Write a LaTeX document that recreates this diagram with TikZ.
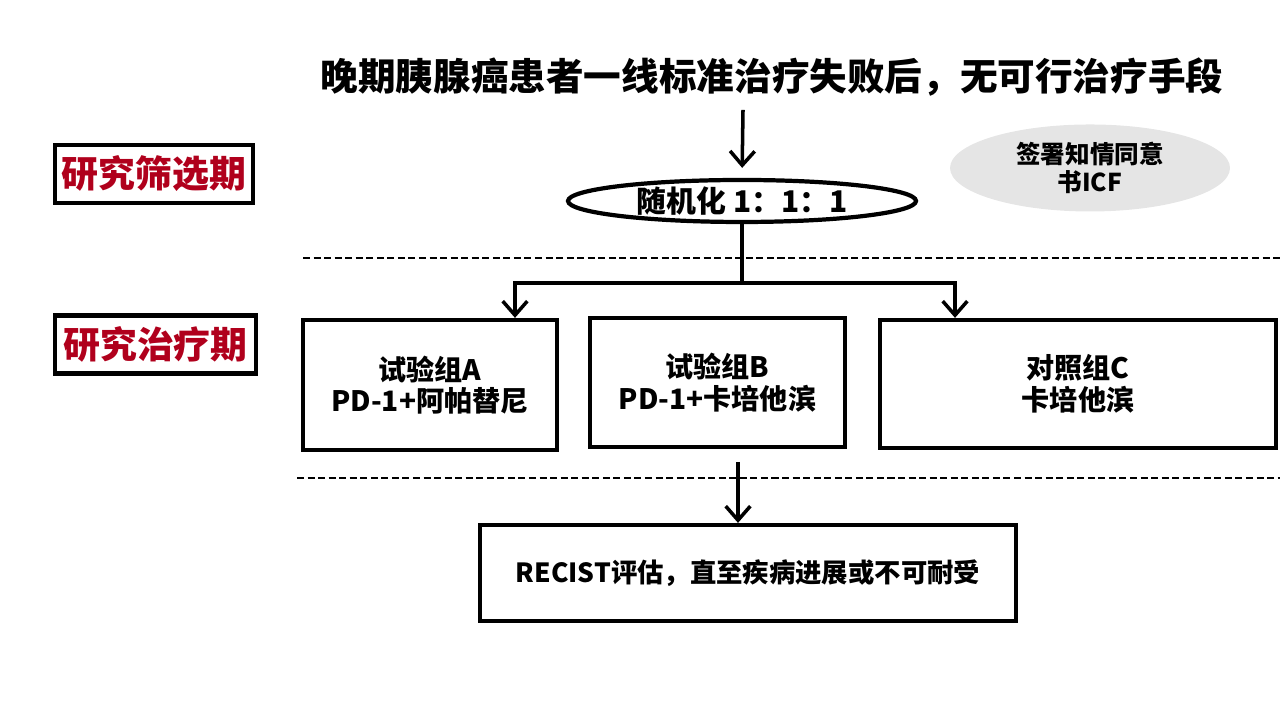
\documentclass[tikz,border=0pt]{standalone}
\usepackage{fontspec}
\setmainfont{Noto Sans CJK SC}
\usetikzlibrary{shapes.geometric,arrows.meta}
\definecolor{labelred}{RGB}{176,0,28}
\definecolor{icfgrey}{RGB}{229,229,229}
\begin{document}
\begin{tikzpicture}[line width=1pt,>={Straight Barb[length=4pt,width=7pt]}]
	\useasboundingbox (0,0) rectangle (12.8,7.2);

	\node (T) at (7.72,6.43) {\fontsize{10.7}{12}\selectfont\bfseries 晚期胰腺癌患者一线标准治疗失败后，无可行治疗手段};

	\begin{scope}[every node/.style={draw,line width=1.4pt,minimum height=0.58cm,inner sep=0pt,text=labelred,font=\fontsize{10.5}{12}\selectfont\bfseries}]
		\node [minimum width=1.98cm] (S) at (1.54,5.46) {研究筛选期};
		\node [minimum width=2.01cm] (P) at (1.555,3.755) {研究治疗期};
	\end{scope}

	\node [ellipse,fill=icfgrey,minimum width=2.8cm,minimum height=0.87cm,inner sep=0pt,align=center,font=\fontsize{7}{8.2}\selectfont\bfseries] (I) at (10.9,5.52) {签署知情同意\\书ICF};

	\node [ellipse,draw,line width=1.2pt,minimum width=3.48cm,minimum height=0.42cm,inner sep=0pt,font=\fontsize{8.5}{10}\selectfont\bfseries] (R) at (7.42,5.19) {随机化 1：1：1};

	\begin{scope}[every node/.style={draw,line width=1.2pt,align=center,inner sep=0pt,font=\fontsize{8}{9}\selectfont\bfseries}]
		\node [minimum width=2.54cm,minimum height=1.30cm] (A) at (4.30,3.35) {试验组A\\PD-1+阿帕替尼};
		\node [minimum width=2.55cm,minimum height=1.29cm] (B) at (7.175,3.375) {试验组B\\PD-1+卡培他滨};
		\node [minimum width=3.96cm,minimum height=1.28cm] (C) at (10.78,3.36) {对照组C\\卡培他滨};
		\node [minimum width=5.36cm,minimum height=0.96cm,font=\fontsize{7.5}{9}\selectfont\bfseries] (D) at (7.48,1.47) {RECIST评估，直至疾病进展或不可耐受};
	\end{scope}

	% phase separators
	\begin{scope}[dash pattern=on 2pt off 1pt,line width=0.6pt]
		\draw (3.03,4.62) -- (12.8,4.62);
		\draw (2.97,2.42) -- (12.8,2.42);
	\end{scope}

	\coordinate (t) at (7.43,6.10);
	\coordinate (j) at (7.42,4.37);
	\coordinate (k) at (7.38,2.58);

	\path [->] (t) edge [shorten >=0.1cm] (R.north);
	\draw (R.south) -- (j);
	\draw [->] (j) -| ([xshift=0.85cm]A.north);
	\draw [->] (j) -| ([xshift=-1.23cm]C.north);
	\path [->] (k) edge (k |- D.north);
	%\path (B) edge (D);
\end{tikzpicture}
\end{document}
